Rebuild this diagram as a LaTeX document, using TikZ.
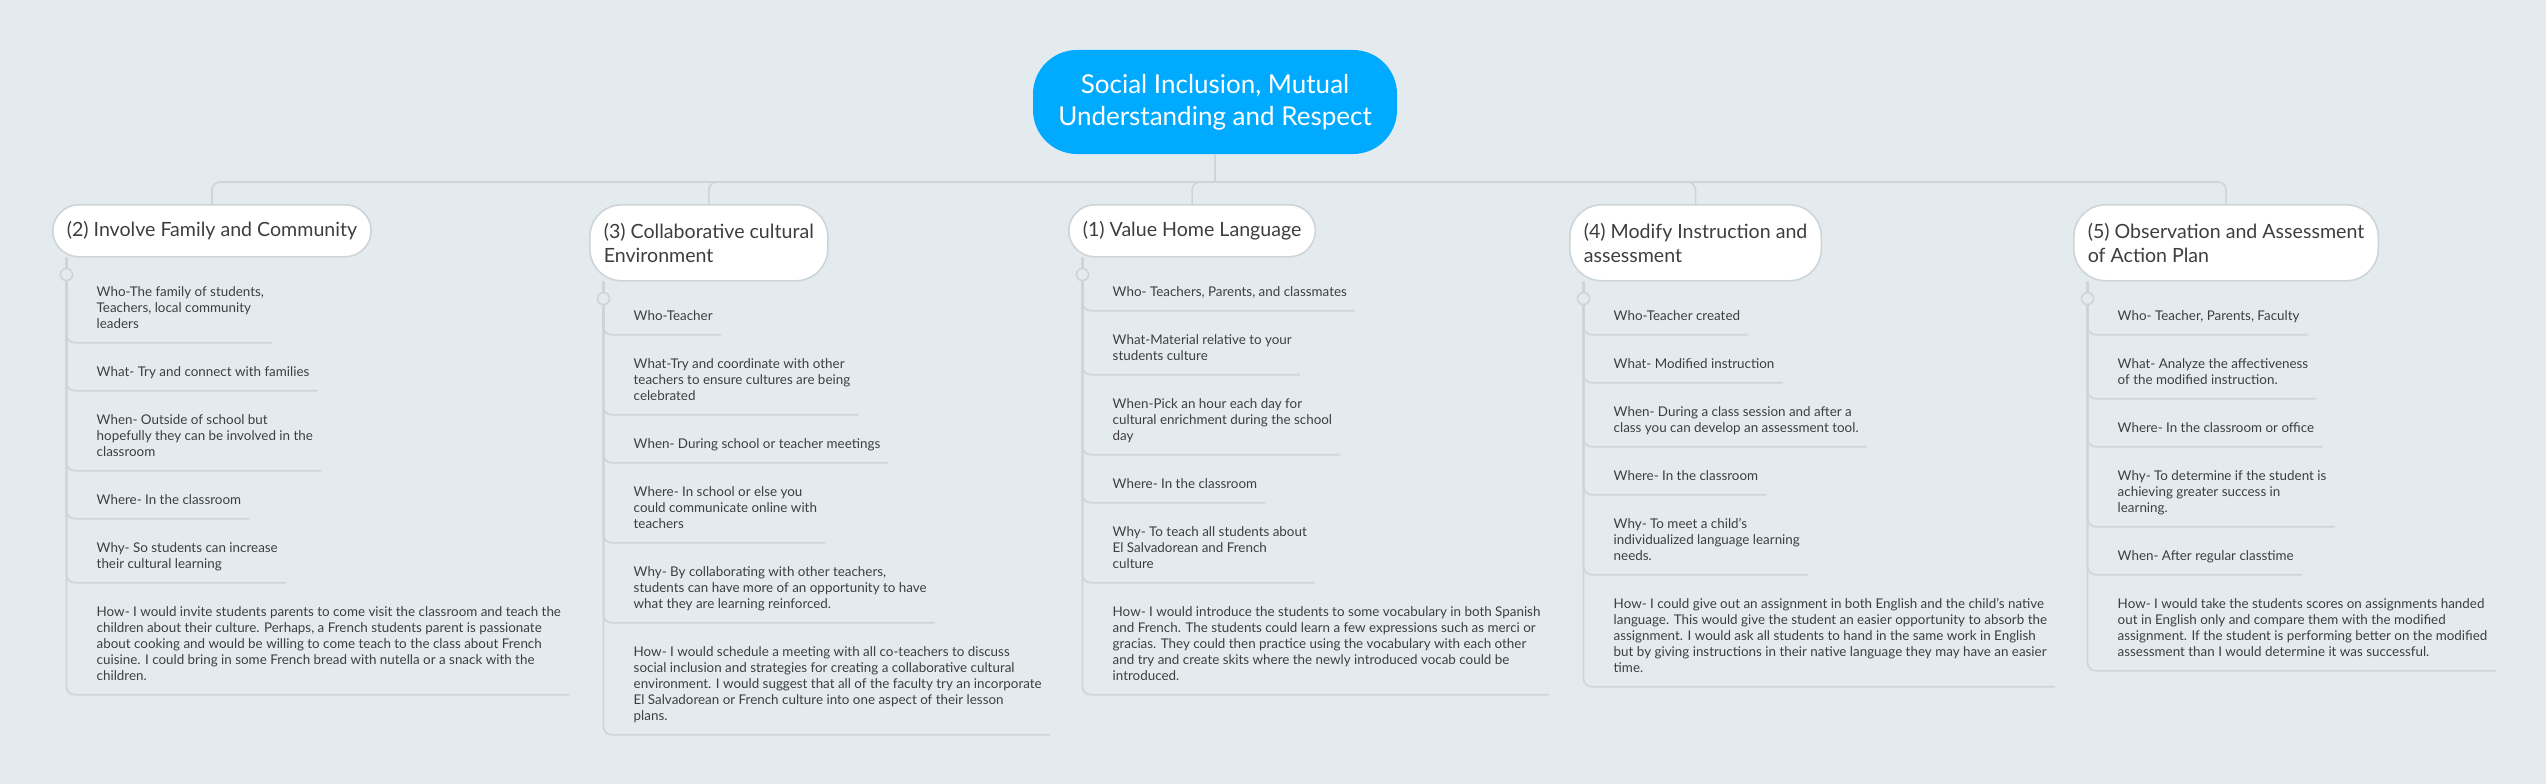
\documentclass[tikz,border=0pt]{standalone}
\usepackage{fontspec}
\setmainfont{Lato}
\usetikzlibrary{calc}
\definecolor{bg}{RGB}{228,235,239}
\definecolor{ln}{RGB}{206,212,216}
\definecolor{cent}{RGB}{0,170,255}
\definecolor{txt}{RGB}{62,62,62}
\begin{document}
\begin{tikzpicture}[x=1pt,y=-1pt,
  conn/.style={draw=ln, line width=1.6pt, rounded corners=8pt},
  central/.style={fill=cent, rounded corners=44pt, text=white, align=center, font=\fontsize{26}{32}\selectfont, minimum width=364pt, minimum height=104pt, inner sep=0pt},
  branch/.style={fill=white, draw=ln, line width=1.6pt, rounded corners=26pt, text=txt, align=left, font=\fontsize{19.6}{24}\selectfont, inner xsep=14pt, inner ysep=0pt, minimum height=52pt, anchor=north west},
  branchtwo/.style={branch, minimum height=76pt, rounded corners=32pt},
  entry/.style={text=txt, align=left, font=\fontsize{13.4}{16}\selectfont, inner xsep=8pt, inner ysep=9pt, anchor=south west, execute at end node=\strut},
  dot/.style={circle, draw=ln, fill=bg, line width=1.6pt, minimum size=12pt, inner sep=0pt}
]
\fill[bg] (0,0) rectangle (2546,784);
\useasboundingbox (0,0) rectangle (2546,784);

% central
\node[central] (C) at (1215,102) {Social Inclusion, Mutual\\Understanding and Respect};
\coordinate (J) at (1215,182);

% branches
\node[branch] (B2) at (52,204) {(2) Involve Family and Community};
\node[branchtwo] (B3) at (589,204) {(3) Collaborative cultural\\Environment};
\node[branch] (B1) at (1068,204) {(1) Value Home Language};
\node[branchtwo] (B4) at (1569,204) {(4) Modify Instruction and\\assessment};
\node[branchtwo] (B5) at (2073,204) {(5) Observation and Assessment\\of Action Plan};

\draw[conn] (C.south) -- (J);
\foreach \b in {B1,B2,B3,B4,B5} { \draw[conn] (J) -| (\b.north); }

\foreach \b/\t in {B1/t1,B2/t2,B3/t3,B4/t4,B5/t5} { \coordinate (\t) at ($(\b.south west)+(14.5,0)$); }

% (2)
\node[entry] (e21) at (88.5,342.7) {Who-The family of students,\\Teachers, local community\\leaders};
\node[entry] (e22) at (88.5,390.7) {What- Try and connect with families};
\node[entry] (e23) at (88.5,470.7) {When- Outside of school but\\hopefully they can be involved in the\\classroom};
\node[entry] (e24) at (88.5,518.7) {Where- In the classroom};
\node[entry] (e25) at (88.5,582.7) {Why- So students can increase\\their cultural learning};
\node[entry] (e26) at (88.5,694.7) {How-  I would invite students parents to come visit the classroom and teach the\\children about their culture.  Perhaps, a French students parent is passionate\\about cooking and would be willing to come teach to the class about French\\cuisine.  I could bring in some French bread with nutella or a snack with the\\children.};

% (3)
\node[entry] (e31) at (625.5,334.7) {Who-Teacher};
\node[entry] (e32) at (625.5,414.7) {What-Try and coordinate with other\\teachers to ensure cultures are being\\celebrated};
\node[entry] (e33) at (625.5,462.7) {When- During school or teacher meetings};
\node[entry] (e34) at (625.5,542.7) {Where- In school or else you\\could communicate online with\\teachers};
\node[entry] (e35) at (625.5,622.7) {Why-  By collaborating with other teachers,\\students can have more of an opportunity to have\\what they are learning reinforced.};
\node[entry] (e36) at (625.5,734.7) {How- I would schedule a meeting with all co-teachers to discuss\\social inclusion and strategies for creating a collaborative cultural\\environment.  I would suggest that all of the faculty try an incorporate\\El Salvadorean or French culture into one aspect of their lesson\\plans.};

% (1)
\node[entry] (e11) at (1104.5,310.7) {Who- Teachers, Parents, and classmates};
\node[entry] (e12) at (1104.5,374.7) {What-Material relative to your\\students culture};
\node[entry] (e13) at (1104.5,454.7) {When-Pick an hour each day for\\cultural enrichment during the school\\day};
\node[entry] (e14) at (1104.5,502.7) {Where- In the classroom};
\node[entry] (e15) at (1104.5,582.7) {Why- To teach all students about\\El Salvadorean and French\\culture};
\node[entry] (e16) at (1104.5,694.7) {How-  I would introduce the students to some vocabulary in both Spanish\\and French.  The students could learn a few expressions such as merci or\\gracias.  They could then practice using the vocabulary with each other\\and try and create skits where the newly introduced vocab could be\\introduced.};

% (4)
\node[entry] (e41) at (1605.5,334.7) {Who-Teacher created};
\node[entry] (e42) at (1605.5,382.7) {What- Modified instruction};
\node[entry] (e43) at (1605.5,446.7) {When- During a class session and after a\\class you can develop an assessment tool.};
\node[entry] (e44) at (1605.5,494.7) {Where- In the classroom};
\node[entry] (e45) at (1605.5,574.7) {Why- To meet a child's\\individualized language learning\\needs.};
\node[entry] (e46) at (1605.5,686.7) {How- I could give out an assignment in both English and the child's native\\language.  This would give the student an easier opportunity to absorb the\\assignment.  I would ask all students to hand in the same work in English\\but by giving instructions in their native language they may have an easier\\time.};

% (5)
\node[entry] (e51) at (2109.5,334.7) {Who- Teacher, Parents, Faculty};
\node[entry] (e52) at (2109.5,398.7) {What- Analyze the affectiveness\\of the modified instruction.};
\node[entry] (e53) at (2109.5,446.7) {Where- In the classroom or office};
\node[entry] (e54) at (2109.5,526.7) {Why- To determine if the student is\\achieving greater success in\\learning.};
\node[entry] (e55) at (2109.5,574.7) {When-  After regular classtime};
\node[entry] (e56) at (2109.5,670.7) {How- I would take the students scores on assignments handed\\out in English only and compare them with the modified\\assignment.  If the student is performing better on the modified\\assessment than I would determine it was successful.};

% trunk connectors
\foreach \k in {1,...,5} {
  \foreach \j in {1,...,6} {
    \draw[conn] (t\k) |- (e\k\j.south east);
  }
}
\foreach \k in {1,...,5} { \node[dot] (d\k) at ($(t\k)+(0,17)$) {}; }
\end{tikzpicture}
\end{document}
